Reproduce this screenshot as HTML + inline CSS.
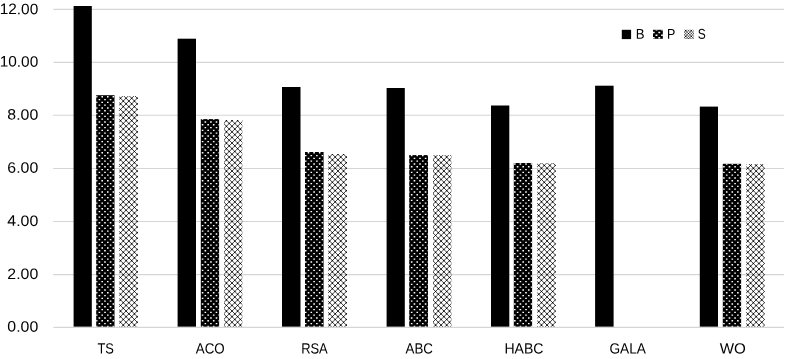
<!DOCTYPE html>
<html><head><meta charset="utf-8"><title>Chart</title>
<style>
html,body{margin:0;padding:0;background:#fff;}
svg{display:block}
text{font-family:"Liberation Sans",sans-serif;fill:#000;}
.yl{font-size:15.1px}
.cl{font-size:14.8px}
.lg{font-size:14.2px}
</style></head><body>
<svg width="785" height="359" viewBox="0 0 785 359">
<defs><clipPath id="cp"><rect x="96.20" y="95.20" width="18.30" height="231.45"/><rect x="200.80" y="119.10" width="18.30" height="207.55"/><rect x="305.00" y="152.00" width="18.60" height="174.65"/><rect x="409.20" y="155.10" width="18.80" height="171.55"/><rect x="513.80" y="163.00" width="18.30" height="163.65"/><rect x="722.80" y="163.80" width="18.30" height="162.85"/></clipPath><clipPath id="cs"><rect x="119.20" y="96.00" width="18.60" height="230.65"/><rect x="224.10" y="119.90" width="18.20" height="206.75"/><rect x="328.10" y="154.00" width="18.80" height="172.65"/><rect x="433.00" y="155.10" width="18.40" height="171.55"/><rect x="537.10" y="163.30" width="18.50" height="163.35"/><rect x="746.10" y="163.90" width="18.30" height="162.75"/></clipPath><clipPath id="lp"><rect x="653.0" y="29.8" width="9.8" height="9.0"/></clipPath><clipPath id="ls"><rect x="684.0" y="29.8" width="9.8" height="9.1"/></clipPath></defs>
<rect width="785" height="359" fill="#fff"/>
<line x1="53.5" y1="9.40" x2="784.0" y2="9.40" stroke="#d5d5d5" stroke-width="1.1"/>
<line x1="53.5" y1="62.40" x2="784.0" y2="62.40" stroke="#d5d5d5" stroke-width="1.1"/>
<line x1="52.9" y1="115.20" x2="784.0" y2="115.20" stroke="#d5d5d5" stroke-width="1.1"/>
<line x1="53.1" y1="168.45" x2="784.0" y2="168.45" stroke="#d5d5d5" stroke-width="1.1"/>
<line x1="53.1" y1="221.50" x2="784.0" y2="221.50" stroke="#d5d5d5" stroke-width="1.1"/>
<line x1="53.1" y1="274.65" x2="784.0" y2="274.65" stroke="#d5d5d5" stroke-width="1.1"/>
<line x1="53.5" y1="327.35" x2="784.0" y2="327.35" stroke="#d5d5d5" stroke-width="1.1"/>
<text class="yl" transform="translate(38.2,14.15) rotate(0.05) scale(1.02,1)" text-anchor="end">12.00</text>
<text class="yl" transform="translate(38.2,66.65) rotate(0.05) scale(1.02,1)" text-anchor="end">10.00</text>
<text class="yl" transform="translate(38.2,119.65) rotate(0.05) scale(1.05,1)" text-anchor="end">8.00</text>
<text class="yl" transform="translate(38.2,172.75) rotate(0.05) scale(1.05,1)" text-anchor="end">6.00</text>
<text class="yl" transform="translate(38.2,225.90) rotate(0.05) scale(1.05,1)" text-anchor="end">4.00</text>
<text class="yl" transform="translate(38.2,279.05) rotate(0.05) scale(1.05,1)" text-anchor="end">2.00</text>
<text class="yl" transform="translate(38.2,331.65) rotate(0.05) scale(1.05,1)" text-anchor="end">0.00</text>
<rect x="73.60" y="6.00" width="18.20" height="320.65" fill="#000"/>
<rect x="96.20" y="95.20" width="18.30" height="231.45" fill="#000"/>
<rect x="177.60" y="38.70" width="18.40" height="287.95" fill="#000"/>
<rect x="200.80" y="119.10" width="18.30" height="207.55" fill="#000"/>
<rect x="282.00" y="87.00" width="18.50" height="239.65" fill="#000"/>
<rect x="305.00" y="152.00" width="18.60" height="174.65" fill="#000"/>
<rect x="386.60" y="88.00" width="18.20" height="238.65" fill="#000"/>
<rect x="409.20" y="155.10" width="18.80" height="171.55" fill="#000"/>
<rect x="491.00" y="105.50" width="18.30" height="221.15" fill="#000"/>
<rect x="513.80" y="163.00" width="18.30" height="163.65" fill="#000"/>
<rect x="595.10" y="85.70" width="18.50" height="240.95" fill="#000"/>
<rect x="699.80" y="106.60" width="18.20" height="220.05" fill="#000"/>
<rect x="722.80" y="163.80" width="18.30" height="162.85" fill="#000"/>
<rect x="621.8" y="29.8" width="9.3" height="9.3" fill="#000"/>
<rect x="653.0" y="29.8" width="9.8" height="9.0" fill="#000"/>
<g clip-path="url(#cp)" stroke="#fff" stroke-width="1.35" fill="none" stroke-dasharray="1.6 3.976">
<path d="M-4.54,91.15H785M-4.54,96.75H785M-4.54,102.35H785M-4.54,107.95H785M-4.54,113.55H785M-4.54,119.15H785M-4.54,124.75H785M-4.54,130.35H785M-4.54,135.95H785M-4.54,141.55H785M-4.54,147.15H785M-4.54,152.75H785M-4.54,158.35H785M-4.54,163.95H785M-4.54,169.55H785M-4.54,175.15H785M-4.54,180.75H785M-4.54,186.35H785M-4.54,191.95H785M-4.54,197.55H785M-4.54,203.15H785M-4.54,208.75H785M-4.54,214.35H785M-4.54,219.95H785M-4.54,225.55H785M-4.54,231.15H785M-4.54,236.75H785M-4.54,242.35H785M-4.54,247.95H785M-4.54,253.55H785M-4.54,259.15H785M-4.54,264.75H785M-4.54,270.35H785M-4.54,275.95H785M-4.54,281.55H785M-4.54,287.15H785M-4.54,292.75H785M-4.54,298.35H785M-4.54,303.95H785M-4.54,309.55H785M-4.54,315.15H785M-4.54,320.75H785M-4.54,326.35H785"/>
<path d="M-1.76,93.95H785M-1.76,99.55H785M-1.76,105.15H785M-1.76,110.75H785M-1.76,116.35H785M-1.76,121.95H785M-1.76,127.55H785M-1.76,133.15H785M-1.76,138.75H785M-1.76,144.35H785M-1.76,149.95H785M-1.76,155.55H785M-1.76,161.15H785M-1.76,166.75H785M-1.76,172.35H785M-1.76,177.95H785M-1.76,183.55H785M-1.76,189.15H785M-1.76,194.75H785M-1.76,200.35H785M-1.76,205.95H785M-1.76,211.55H785M-1.76,217.15H785M-1.76,222.75H785M-1.76,228.35H785M-1.76,233.95H785M-1.76,239.55H785M-1.76,245.15H785M-1.76,250.75H785M-1.76,256.35H785M-1.76,261.95H785M-1.76,267.55H785M-1.76,273.15H785M-1.76,278.75H785M-1.76,284.35H785M-1.76,289.95H785M-1.76,295.55H785M-1.76,301.15H785M-1.76,306.75H785M-1.76,312.35H785M-1.76,317.95H785M-1.76,323.55H785"/>
</g>
<g clip-path="url(#cs)" stroke="#000" stroke-width="0.75" fill="none">
<path d="M90,330.82L770,1013.75M90,325.22L770,1008.15M90,319.62L770,1002.55M90,314.02L770,996.95M90,308.42L770,991.35M90,302.82L770,985.75M90,297.22L770,980.15M90,291.62L770,974.55M90,286.02L770,968.95M90,280.42L770,963.35M90,274.82L770,957.75M90,269.22L770,952.15M90,263.62L770,946.55M90,258.02L770,940.95M90,252.42L770,935.35M90,246.82L770,929.75M90,241.22L770,924.15M90,235.62L770,918.55M90,230.02L770,912.95M90,224.42L770,907.35M90,218.82L770,901.75M90,213.22L770,896.15M90,207.62L770,890.55M90,202.02L770,884.95M90,196.42L770,879.35M90,190.82L770,873.75M90,185.22L770,868.15M90,179.62L770,862.55M90,174.02L770,856.95M90,168.42L770,851.35M90,162.82L770,845.75M90,157.22L770,840.15M90,151.62L770,834.55M90,146.02L770,828.95M90,140.42L770,823.35M90,134.82L770,817.75M90,129.22L770,812.15M90,123.62L770,806.55M90,118.02L770,800.95M90,112.42L770,795.35M90,106.82L770,789.75M90,101.22L770,784.15M90,95.62L770,778.55M90,90.02L770,772.95M90,84.42L770,767.35M90,78.82L770,761.75M90,73.22L770,756.15M90,67.62L770,750.55M90,62.02L770,744.95M90,56.42L770,739.35M90,50.82L770,733.75M90,45.22L770,728.15M90,39.62L770,722.55M90,34.02L770,716.95M90,28.42L770,711.35M90,22.82L770,705.75M90,17.22L770,700.15M90,11.62L770,694.55M90,6.02L770,688.95M90,0.42L770,683.35M90,-5.18L770,677.75M90,-10.78L770,672.15M90,-16.38L770,666.55M90,-21.98L770,660.95M90,-27.58L770,655.35M90,-33.18L770,649.75M90,-38.78L770,644.15M90,-44.38L770,638.55M90,-49.98L770,632.95M90,-55.58L770,627.35M90,-61.18L770,621.75M90,-66.78L770,616.15M90,-72.38L770,610.55M90,-77.98L770,604.95M90,-83.58L770,599.35M90,-89.18L770,593.75M90,-94.78L770,588.15M90,-100.38L770,582.55M90,-105.98L770,576.95M90,-111.58L770,571.35M90,-117.18L770,565.75M90,-122.78L770,560.15M90,-128.38L770,554.55M90,-133.98L770,548.95M90,-139.58L770,543.35M90,-145.18L770,537.75M90,-150.78L770,532.15M90,-156.38L770,526.55M90,-161.98L770,520.95M90,-167.58L770,515.35M90,-173.18L770,509.75M90,-178.78L770,504.15M90,-184.38L770,498.55M90,-189.98L770,492.95M90,-195.58L770,487.35M90,-201.18L770,481.75M90,-206.78L770,476.15M90,-212.38L770,470.55M90,-217.98L770,464.95M90,-223.58L770,459.35M90,-229.18L770,453.75M90,-234.78L770,448.15M90,-240.38L770,442.55M90,-245.98L770,436.95M90,-251.58L770,431.35M90,-257.18L770,425.75M90,-262.78L770,420.15M90,-268.38L770,414.55M90,-273.98L770,408.95M90,-279.58L770,403.35M90,-285.18L770,397.75M90,-290.78L770,392.15M90,-296.38L770,386.55M90,-301.98L770,380.95M90,-307.58L770,375.35M90,-313.18L770,369.75M90,-318.78L770,364.15M90,-324.38L770,358.55M90,-329.98L770,352.95M90,-335.58L770,347.35M90,-341.18L770,341.75M90,-346.78L770,336.15M90,-352.38L770,330.55M90,-357.98L770,324.95M90,-363.58L770,319.35M90,-369.18L770,313.75M90,-374.78L770,308.15M90,-380.38L770,302.55M90,-385.98L770,296.95M90,-391.58L770,291.35M90,-397.18L770,285.75M90,-402.78L770,280.15M90,-408.38L770,274.55M90,-413.98L770,268.95M90,-419.58L770,263.35M90,-425.18L770,257.75M90,-430.78L770,252.15M90,-436.38L770,246.55M90,-441.98L770,240.95M90,-447.58L770,235.35M90,-453.18L770,229.75M90,-458.78L770,224.15M90,-464.38L770,218.55M90,-469.98L770,212.95M90,-475.58L770,207.35M90,-481.18L770,201.75M90,-486.78L770,196.15M90,-492.38L770,190.55M90,-497.98L770,184.95M90,-503.58L770,179.35M90,-509.18L770,173.75M90,-514.78L770,168.15M90,-520.38L770,162.55M90,-525.98L770,156.95M90,-531.58L770,151.35M90,-537.18L770,145.75M90,-542.78L770,140.15M90,-548.38L770,134.55M90,-553.98L770,128.95M90,-559.58L770,123.35M90,-565.18L770,117.75M90,-570.78L770,112.15M90,-576.38L770,106.55M90,-581.98L770,100.95M90,-587.58L770,95.35M90,-593.18L770,89.75M90,-598.78L770,84.15M90,-604.38L770,78.55M90,-609.98L770,72.95M90,-615.58L770,67.35M90,-621.18L770,61.75M90,-626.78L770,56.15M90,-632.38L770,50.55M90,-637.98L770,44.95M90,-643.58L770,39.35M90,-649.18L770,33.75M90,-654.78L770,28.15M90,-660.38L770,22.55"/>
<path d="M90,22.48L770,-660.45M90,28.08L770,-654.85M90,33.68L770,-649.25M90,39.28L770,-643.65M90,44.88L770,-638.05M90,50.48L770,-632.45M90,56.08L770,-626.85M90,61.68L770,-621.25M90,67.28L770,-615.65M90,72.88L770,-610.05M90,78.48L770,-604.45M90,84.08L770,-598.85M90,89.68L770,-593.25M90,95.28L770,-587.65M90,100.88L770,-582.05M90,106.48L770,-576.45M90,112.08L770,-570.85M90,117.68L770,-565.25M90,123.28L770,-559.65M90,128.88L770,-554.05M90,134.48L770,-548.45M90,140.08L770,-542.85M90,145.68L770,-537.25M90,151.28L770,-531.65M90,156.88L770,-526.05M90,162.48L770,-520.45M90,168.08L770,-514.85M90,173.68L770,-509.25M90,179.28L770,-503.65M90,184.88L770,-498.05M90,190.48L770,-492.45M90,196.08L770,-486.85M90,201.68L770,-481.25M90,207.28L770,-475.65M90,212.88L770,-470.05M90,218.48L770,-464.45M90,224.08L770,-458.85M90,229.68L770,-453.25M90,235.28L770,-447.65M90,240.88L770,-442.05M90,246.48L770,-436.45M90,252.08L770,-430.85M90,257.68L770,-425.25M90,263.28L770,-419.65M90,268.88L770,-414.05M90,274.48L770,-408.45M90,280.08L770,-402.85M90,285.68L770,-397.25M90,291.28L770,-391.65M90,296.88L770,-386.05M90,302.48L770,-380.45M90,308.08L770,-374.85M90,313.68L770,-369.25M90,319.28L770,-363.65M90,324.88L770,-358.05M90,330.48L770,-352.45M90,336.08L770,-346.85M90,341.68L770,-341.25M90,347.28L770,-335.65M90,352.88L770,-330.05M90,358.48L770,-324.45M90,364.08L770,-318.85M90,369.68L770,-313.25M90,375.28L770,-307.65M90,380.88L770,-302.05M90,386.48L770,-296.45M90,392.08L770,-290.85M90,397.68L770,-285.25M90,403.28L770,-279.65M90,408.88L770,-274.05M90,414.48L770,-268.45M90,420.08L770,-262.85M90,425.68L770,-257.25M90,431.28L770,-251.65M90,436.88L770,-246.05M90,442.48L770,-240.45M90,448.08L770,-234.85M90,453.68L770,-229.25M90,459.28L770,-223.65M90,464.88L770,-218.05M90,470.48L770,-212.45M90,476.08L770,-206.85M90,481.68L770,-201.25M90,487.28L770,-195.65M90,492.88L770,-190.05M90,498.48L770,-184.45M90,504.08L770,-178.85M90,509.68L770,-173.25M90,515.28L770,-167.65M90,520.88L770,-162.05M90,526.48L770,-156.45M90,532.08L770,-150.85M90,537.68L770,-145.25M90,543.28L770,-139.65M90,548.88L770,-134.05M90,554.48L770,-128.45M90,560.08L770,-122.85M90,565.68L770,-117.25M90,571.28L770,-111.65M90,576.88L770,-106.05M90,582.48L770,-100.45M90,588.08L770,-94.85M90,593.68L770,-89.25M90,599.28L770,-83.65M90,604.88L770,-78.05M90,610.48L770,-72.45M90,616.08L770,-66.85M90,621.68L770,-61.25M90,627.28L770,-55.65M90,632.88L770,-50.05M90,638.48L770,-44.45M90,644.08L770,-38.85M90,649.68L770,-33.25M90,655.28L770,-27.65M90,660.88L770,-22.05M90,666.48L770,-16.45M90,672.08L770,-10.85M90,677.68L770,-5.25M90,683.28L770,0.35M90,688.88L770,5.95M90,694.48L770,11.55M90,700.08L770,17.15M90,705.68L770,22.75M90,711.28L770,28.35M90,716.88L770,33.95M90,722.48L770,39.55M90,728.08L770,45.15M90,733.68L770,50.75M90,739.28L770,56.35M90,744.88L770,61.95M90,750.48L770,67.55M90,756.08L770,73.15M90,761.68L770,78.75M90,767.28L770,84.35M90,772.88L770,89.95M90,778.48L770,95.55M90,784.08L770,101.15M90,789.68L770,106.75M90,795.28L770,112.35M90,800.88L770,117.95M90,806.48L770,123.55M90,812.08L770,129.15M90,817.68L770,134.75M90,823.28L770,140.35M90,828.88L770,145.95M90,834.48L770,151.55M90,840.08L770,157.15M90,845.68L770,162.75M90,851.28L770,168.35M90,856.88L770,173.95M90,862.48L770,179.55M90,868.08L770,185.15M90,873.68L770,190.75M90,879.28L770,196.35M90,884.88L770,201.95M90,890.48L770,207.55M90,896.08L770,213.15M90,901.68L770,218.75M90,907.28L770,224.35M90,912.88L770,229.95M90,918.48L770,235.55M90,924.08L770,241.15M90,929.68L770,246.75M90,935.28L770,252.35M90,940.88L770,257.95M90,946.48L770,263.55M90,952.08L770,269.15M90,957.68L770,274.75M90,963.28L770,280.35M90,968.88L770,285.95M90,974.48L770,291.55M90,980.08L770,297.15M90,985.68L770,302.75M90,991.28L770,308.35M90,996.88L770,313.95M90,1002.48L770,319.55M90,1008.08L770,325.15M90,1013.68L770,330.75"/>
<path stroke-width="1.15" stroke-dasharray="1.15 4.426" d="M86.47,92.65H770M86.47,98.25H770M86.47,103.85H770M86.47,109.45H770M86.47,115.05H770M86.47,120.65H770M86.47,126.25H770M86.47,131.85H770M86.47,137.45H770M86.47,143.05H770M86.47,148.65H770M86.47,154.25H770M86.47,159.85H770M86.47,165.45H770M86.47,171.05H770M86.47,176.65H770M86.47,182.25H770M86.47,187.85H770M86.47,193.45H770M86.47,199.05H770M86.47,204.65H770M86.47,210.25H770M86.47,215.85H770M86.47,221.45H770M86.47,227.05H770M86.47,232.65H770M86.47,238.25H770M86.47,243.85H770M86.47,249.45H770M86.47,255.05H770M86.47,260.65H770M86.47,266.25H770M86.47,271.85H770M86.47,277.45H770M86.47,283.05H770M86.47,288.65H770M86.47,294.25H770M86.47,299.85H770M86.47,305.45H770M86.47,311.05H770M86.47,316.65H770M86.47,322.25H770M86.47,327.85H770"/>
<path stroke-width="1.15" stroke-dasharray="1.15 4.426" d="M83.68,89.85H770M83.68,95.45H770M83.68,101.05H770M83.68,106.65H770M83.68,112.25H770M83.68,117.85H770M83.68,123.45H770M83.68,129.05H770M83.68,134.65H770M83.68,140.25H770M83.68,145.85H770M83.68,151.45H770M83.68,157.05H770M83.68,162.65H770M83.68,168.25H770M83.68,173.85H770M83.68,179.45H770M83.68,185.05H770M83.68,190.65H770M83.68,196.25H770M83.68,201.85H770M83.68,207.45H770M83.68,213.05H770M83.68,218.65H770M83.68,224.25H770M83.68,229.85H770M83.68,235.45H770M83.68,241.05H770M83.68,246.65H770M83.68,252.25H770M83.68,257.85H770M83.68,263.45H770M83.68,269.05H770M83.68,274.65H770M83.68,280.25H770M83.68,285.85H770M83.68,291.45H770M83.68,297.05H770M83.68,302.65H770M83.68,308.25H770M83.68,313.85H770M83.68,319.45H770M83.68,325.05H770"/>
</g>
<path clip-path="url(#lp)" fill="#fff" d="M647.19,26.24h1.9v1.6h-1.9zM647.19,31.68h1.9v1.6h-1.9zM647.19,37.12h1.9v1.6h-1.9zM647.19,42.56h1.9v1.6h-1.9zM649.97,28.96h1.9v1.6h-1.9zM649.97,34.40h1.9v1.6h-1.9zM649.97,39.84h1.9v1.6h-1.9zM652.76,26.24h1.9v1.6h-1.9zM652.76,31.68h1.9v1.6h-1.9zM652.76,37.12h1.9v1.6h-1.9zM652.76,42.56h1.9v1.6h-1.9zM655.55,28.96h1.9v1.6h-1.9zM655.55,34.40h1.9v1.6h-1.9zM655.55,39.84h1.9v1.6h-1.9zM658.34,26.24h1.9v1.6h-1.9zM658.34,31.68h1.9v1.6h-1.9zM658.34,37.12h1.9v1.6h-1.9zM658.34,42.56h1.9v1.6h-1.9zM661.13,28.96h1.9v1.6h-1.9zM661.13,34.40h1.9v1.6h-1.9zM661.13,39.84h1.9v1.6h-1.9zM663.91,26.24h1.9v1.6h-1.9zM663.91,31.68h1.9v1.6h-1.9zM663.91,37.12h1.9v1.6h-1.9zM663.91,42.56h1.9v1.6h-1.9z"/>
<path clip-path="url(#ls)" stroke="#000" stroke-width="0.5" fill="none" d="M646.20,13.41L686.20,53.59M646.20,53.59L686.20,13.41M648.98,13.41L688.98,53.59M648.98,53.59L688.98,13.41M651.77,13.41L691.77,53.59M651.77,53.59L691.77,13.41M654.56,13.41L694.56,53.59M654.56,53.59L694.56,13.41M657.35,13.41L697.35,53.59M657.35,53.59L697.35,13.41M660.14,13.41L700.14,53.59M660.14,53.59L700.14,13.41M662.92,13.41L702.92,53.59M662.92,53.59L702.92,13.41M665.71,13.41L705.71,53.59M665.71,53.59L705.71,13.41M668.50,13.41L708.50,53.59M668.50,53.59L708.50,13.41M671.29,13.41L711.29,53.59M671.29,53.59L711.29,13.41M674.08,13.41L714.08,53.59M674.08,53.59L714.08,13.41M676.86,13.41L716.86,53.59M676.86,53.59L716.86,13.41M679.65,13.41L719.65,53.59M679.65,53.59L719.65,13.41M682.44,13.41L722.44,53.59M682.44,53.59L722.44,13.41M685.23,13.41L725.23,53.59M685.23,53.59L725.23,13.41M688.02,13.41L728.02,53.59M688.02,53.59L728.02,13.41M690.80,13.41L730.80,53.59M690.80,53.59L730.80,13.41"/>
<path clip-path="url(#ls)" fill="#000" d="M679.54,24.50h1.2v1.2h-1.2zM679.54,30.10h1.2v1.2h-1.2zM679.54,35.70h1.2v1.2h-1.2zM679.54,41.30h1.2v1.2h-1.2zM682.32,27.30h1.2v1.2h-1.2zM682.32,32.90h1.2v1.2h-1.2zM682.32,38.50h1.2v1.2h-1.2zM685.11,24.50h1.2v1.2h-1.2zM685.11,30.10h1.2v1.2h-1.2zM685.11,35.70h1.2v1.2h-1.2zM685.11,41.30h1.2v1.2h-1.2zM687.90,27.30h1.2v1.2h-1.2zM687.90,32.90h1.2v1.2h-1.2zM687.90,38.50h1.2v1.2h-1.2zM690.69,24.50h1.2v1.2h-1.2zM690.69,30.10h1.2v1.2h-1.2zM690.69,35.70h1.2v1.2h-1.2zM690.69,41.30h1.2v1.2h-1.2zM693.48,27.30h1.2v1.2h-1.2zM693.48,32.90h1.2v1.2h-1.2zM693.48,38.50h1.2v1.2h-1.2zM696.26,24.50h1.2v1.2h-1.2zM696.26,30.10h1.2v1.2h-1.2zM696.26,35.70h1.2v1.2h-1.2zM696.26,41.30h1.2v1.2h-1.2z"/>
<text class="cl" transform="translate(105.70,353.6) rotate(0.05) scale(0.87,1)" text-anchor="middle">TS</text>
<text class="cl" transform="translate(210.25,353.6) rotate(0.05) scale(0.9,1)" text-anchor="middle">ACO</text>
<text class="cl" transform="translate(314.45,353.6) rotate(0.05) scale(0.875,1)" text-anchor="middle">RSA</text>
<text class="cl" transform="translate(419.25,353.6) rotate(0.05) scale(0.9,1)" text-anchor="middle">ABC</text>
<text class="cl" transform="translate(523.95,353.6) rotate(0.05) scale(0.95,1)" text-anchor="middle">HABC</text>
<text class="cl" transform="translate(627.70,353.6) rotate(0.05) scale(0.925,1)" text-anchor="middle">GALA</text>
<text class="cl" transform="translate(732.70,353.6) rotate(0.05) scale(1.025,1)" text-anchor="middle">WO</text>
<text class="lg" transform="translate(635.7,38.8) rotate(0.05) scale(0.93,1)">B</text>
<text class="lg" transform="translate(667.1,38.8) rotate(0.05) scale(0.88,1)">P</text>
<text class="lg" transform="translate(697.7,38.8) rotate(0.05) scale(0.85,1)">S</text>
</svg>
</body></html>
